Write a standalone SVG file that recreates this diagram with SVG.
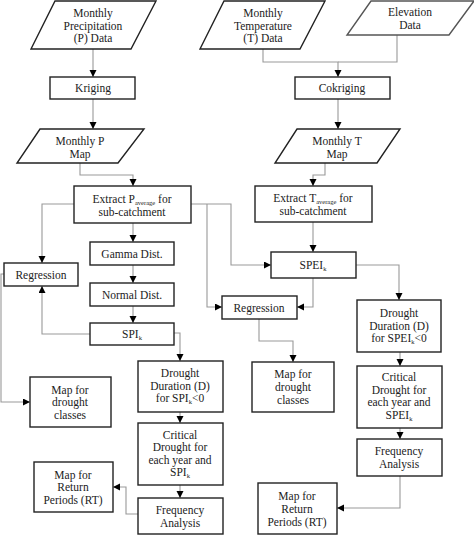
<svg xmlns="http://www.w3.org/2000/svg" width="474" height="535" viewBox="0 0 474 535">
<defs>
<marker id="ah" markerWidth="8" markerHeight="8" refX="7" refY="3.5" orient="auto" markerUnits="userSpaceOnUse">
<path d="M0,0 L7,3.5 L0,7 Z" fill="#000"/>
</marker>
<style>
.b{fill:#fff;stroke:#222;stroke-width:1.4}
text{font-family:'Liberation Serif','DejaVu Serif','Times New Roman',serif;font-size:11.5px;fill:#222;text-anchor:middle}
.s{font-size:6.5px}
.c{fill:none;stroke:#999;stroke-width:1.1}
.a{marker-end:url(#ah)}
</style>
</defs>
<rect width="474" height="535" fill="#fff"/>
<g id="connectors">
<path class="c a" d="M93,49 V77"/>
<path class="c a" d="M93,99 V129"/>
<path class="c a" d="M80,163 V175 H133 V186"/>
<path class="c a" d="M263,49 V62 H338 V77"/>
<path class="c" d="M397,35 V62 H338"/>
<path class="c a" d="M338,99 V129"/>
<path class="c a" d="M325,163 V175 H313 V186"/>
<path class="c a" d="M133,223 V242"/>
<path class="c a" d="M133,265 V283"/>
<path class="c a" d="M133,306 V323"/>
<path class="c a" d="M74,204 H42 V263"/>
<path class="c a" d="M90,334 H42 V286"/>
<path class="c a" d="M4,274 H1 V402 H30"/>
<path class="c a" d="M191,204 H231 V265 H271"/>
<path class="c a" d="M207,204 V307 H222"/>
<path class="c a" d="M313,222 V252"/>
<path class="c a" d="M313,278 V307 H297"/>
<path class="c a" d="M356,265 H399 V300"/>
<path class="c a" d="M259,319 V341 H293 V362"/>
<path class="c a" d="M174,333 H180 V361"/>
<path class="c a" d="M180,412 V423"/>
<path class="c a" d="M180,485 V498"/>
<path class="c a" d="M138,514 H126 V487 H113"/>
<path class="c a" d="M400,352 V366"/>
<path class="c a" d="M400,428 V439"/>
<path class="c a" d="M400,476 V508 H337"/>
</g>
<g id="p-data">
<path class="b" d="M55,1 H156 L131,49 H31 Z"/>
<text x="93" y="17">Monthly</text>
<text x="93" y="29.5">Precipitation</text>
<text x="93" y="42">(P) Data</text>
</g>
<g id="t-data">
<path class="b" d="M224,1 H325 L300,49 H200 Z"/>
<text x="263" y="17">Monthly</text>
<text x="263" y="29.5">Temperature</text>
<text x="263" y="42">(T) Data</text>
</g>
<g id="elev-data">
<path class="b" d="M371,1 H474 L449,35 H347 Z" style="stroke:#555"/>
<text x="410" y="16">Elevation</text>
<text x="410" y="29">Data</text>
</g>
<g id="kriging">
<rect class="b" x="50" y="77" width="85" height="22"/>
<text x="93" y="92">Kriging</text>
</g>
<g id="cokriging">
<rect class="b" x="295" y="77" width="95" height="22"/>
<text x="342" y="92">Cokriging</text>
</g>
<g id="p-map">
<path class="b" d="M40,129 H144 L118,163 H17 Z"/>
<text x="80" y="145">Monthly P</text>
<text x="80" y="158">Map</text>
</g>
<g id="t-map">
<path class="b" d="M297,129 H400 L377,163 H275 Z"/>
<text x="337" y="145">Monthly T</text>
<text x="337" y="158">Map</text>
</g>
<g id="extract-p">
<rect class="b" x="74" y="186" width="117" height="37"/>
<text x="132" y="203">Extract P<tspan class="s" dy="2">average</tspan><tspan dy="-2"> for</tspan></text>
<text x="132" y="216">sub-catchment</text>
</g>
<g id="extract-t">
<rect class="b" x="255" y="186" width="117" height="36"/>
<text x="313" y="202">Extract T<tspan class="s" dy="2">average</tspan><tspan dy="-2"> for</tspan></text>
<text x="313" y="215">sub-catchment</text>
</g>
<g id="gamma">
<rect class="b" x="90" y="242" width="84" height="23"/>
<text x="132" y="257.5">Gamma Dist.</text>
</g>
<g id="normal">
<rect class="b" x="90" y="283" width="84" height="23"/>
<text x="132" y="298.5">Normal Dist.</text>
</g>
<g id="spi">
<rect class="b" x="90" y="323" width="84" height="22"/>
<text x="132" y="338">SPI<tspan class="s" dy="2">k</tspan></text>
</g>
<g id="regression-left">
<rect class="b" x="4" y="263" width="74" height="23"/>
<text x="41" y="278.5">Regression</text>
</g>
<g id="spei">
<rect class="b" x="271" y="252" width="85" height="26"/>
<text x="313" y="269">SPEI<tspan class="s" dy="2">k</tspan></text>
</g>
<g id="regression-mid">
<rect class="b" x="222" y="296" width="75" height="23"/>
<text x="259" y="311.5">Regression</text>
</g>
<g id="drought-right">
<rect class="b" x="357" y="300" width="84" height="52"/>
<text x="399" y="317">Drought</text>
<text x="399" y="329.5">Duration (D)</text>
<text x="399" y="342">for SPEI<tspan class="s" dy="2">k</tspan><tspan dy="-2">&lt;0</tspan></text>
</g>
<g id="map-drought-mid">
<rect class="b" x="252" y="362" width="82" height="50"/>
<text x="293" y="378">Map for</text>
<text x="293" y="391">drought</text>
<text x="293" y="404">classes</text>
</g>
<g id="critical-right">
<rect class="b" x="357" y="366" width="85" height="62"/>
<text x="399" y="381">Critical</text>
<text x="399" y="393.5">Drought for</text>
<text x="399" y="406">each year and</text>
<text x="399" y="418.5">SPEI<tspan class="s" dy="2">k</tspan></text>
</g>
<g id="freq-right">
<rect class="b" x="357" y="439" width="85" height="37"/>
<text x="399" y="455">Frequency</text>
<text x="399" y="468">Analysis</text>
</g>
<g id="map-rt-right">
<rect class="b" x="258" y="483" width="79" height="51"/>
<text x="297" y="499.5">Map for</text>
<text x="297" y="512.5">Return</text>
<text x="297" y="525.5">Periods (RT)</text>
</g>
<g id="drought-left">
<rect class="b" x="138" y="361" width="85" height="51"/>
<text x="180" y="377">Drought</text>
<text x="180" y="389.5">Duration (D)</text>
<text x="180" y="402">for SPI<tspan class="s" dy="2">k</tspan><tspan dy="-2">&lt;0</tspan></text>
</g>
<g id="map-drought-left">
<rect class="b" x="30" y="377" width="81" height="50"/>
<text x="70" y="393.5">Map for</text>
<text x="70" y="406">drought</text>
<text x="70" y="418.5">classes</text>
</g>
<g id="critical-left">
<rect class="b" x="138" y="423" width="85" height="62"/>
<text x="180" y="438.5">Critical</text>
<text x="180" y="451">Drought for</text>
<text x="180" y="463.5">each year and</text>
<text x="180" y="476">SPI<tspan class="s" dy="2">k</tspan></text>
</g>
<g id="freq-left">
<rect class="b" x="138" y="498" width="85" height="36"/>
<text x="180" y="514">Frequency</text>
<text x="180" y="527">Analysis</text>
</g>
<g id="map-rt-left">
<rect class="b" x="34" y="462" width="79" height="50"/>
<text x="73" y="478.5">Map for</text>
<text x="73" y="491">Return</text>
<text x="73" y="503.5">Periods (RT)</text>
</g>
</svg>
